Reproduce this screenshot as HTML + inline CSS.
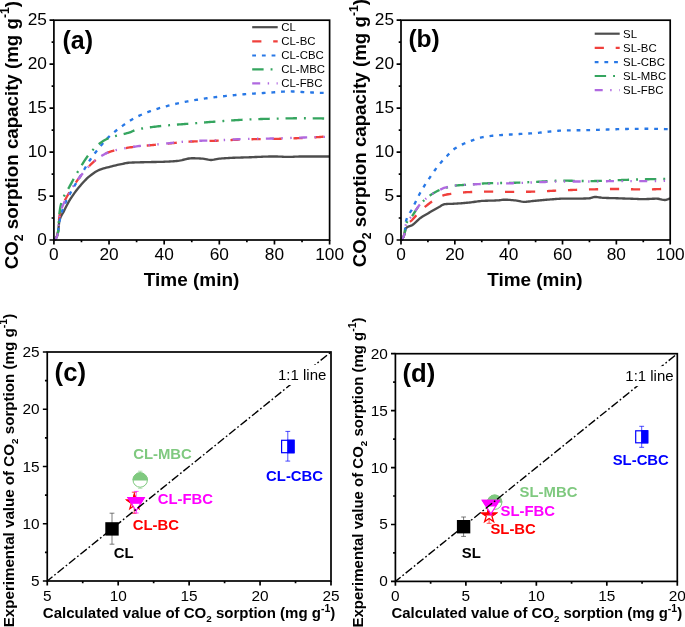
<!DOCTYPE html>
<html lang="en"><head><meta charset="utf-8"><title>CO2 sorption capacity of biochar-amended soils</title>
<style>html,body{margin:0;padding:0;background:#fff}svg{display:block}text{font-family:"Liberation Sans", Arial, Helvetica, sans-serif}</style></head><body>
<svg width="685" height="627" viewBox="0 0 685 627" font-family='"Liberation Sans", Arial, Helvetica, sans-serif'>
<rect width="685" height="627" fill="#fff"/>
<g id="panel-a">
<path d="M53.9 240L54.18 239.95L54.45 239.82L54.73 239.62L55 239.35L55.28 239.02L55.55 238.65L55.83 238.25L56.11 237.81L56.38 237.36L56.66 236.83L56.93 236.16L57.21 235.35L57.48 234.4L57.76 233.31L58.04 232.09L58.31 230.24L58.59 227.63L58.86 224.81L59.14 222.3L59.41 220.66L59.69 219.68L59.97 218.8L60.24 218.02L60.52 217.32L60.79 216.69L61.07 216.13L61.34 215.61L61.62 215.12L61.9 214.67L62.17 214.23L63.55 211.87L64.93 209.08L66.31 206.33L67.69 203.68L69.06 201.2L69.89 199.82L70.44 198.94L71.82 196.82L73.2 194.8L74.58 192.87L75.96 191.03L77.33 189.26L78.71 187.56L80.09 185.93L81.47 184.33L82.85 182.77L84.23 181.26L85.61 179.82L86.98 178.45L88.36 177.19L89.74 176.03L90.02 175.82L91.12 174.98L92.5 173.96L93.88 173L95.25 172.1L96.63 171.27L98.01 170.53L99.39 169.89L99.94 169.66L100.77 169.35L102.15 168.88L103.53 168.47L104.9 168.09L106.28 167.73L107.66 167.38L109.04 167.03L110.42 166.67L111.8 166.31L113.18 165.96L114.55 165.63L115.93 165.3L117.31 164.98L118.69 164.68L120.07 164.39L121.45 164.1L122.83 163.79L124.2 163.5L125.58 163.21L126.96 162.97L128.34 162.78L129.72 162.65L129.99 162.63L131.1 162.58L132.47 162.52L133.85 162.46L135.23 162.42L136.61 162.38L137.99 162.35L139.37 162.32L140.75 162.29L142.12 162.26L143.5 162.22L144.88 162.19L146.26 162.16L147.64 162.13L149.02 162.1L150.4 162.07L151.77 162.04L153.15 162.02L154.53 161.99L155.91 161.96L157.29 161.94L158.67 161.91L160.04 161.87L161.42 161.84L162.8 161.8L164.18 161.75L165.56 161.7L166.94 161.64L168.32 161.57L169.69 161.5L171.07 161.42L172.45 161.33L173.83 161.23L175.21 161.12L176.59 161L177.97 160.87L179.34 160.69L180.72 160.43L182.1 160.11L183.48 159.75L184.86 159.39L186.24 159.04L187.61 158.72L188.99 158.47L190.37 158.3L191.75 158.23L193.13 158.24L194.51 158.27L195.89 158.31L197.26 158.36L198.64 158.43L200.02 158.5L201.4 158.59L202.78 158.67L204.16 158.83L205.54 159.1L206.91 159.4L208.29 159.69L209.67 159.91L211.05 159.99L212.43 159.91L213.81 159.71L215.18 159.43L216.56 159.13L217.94 158.86L219.32 158.67L220.7 158.55L222.08 158.43L223.46 158.33L224.83 158.23L226.21 158.14L227.59 158.06L228.97 157.99L230.35 157.92L231.73 157.86L233.11 157.79L234.48 157.74L235.86 157.69L237.24 157.64L238.62 157.6L240 157.56L241.38 157.52L242.75 157.48L244.13 157.44L245.51 157.4L246.89 157.36L248.27 157.31L249.65 157.26L251.03 157.21L252.4 157.15L253.78 157.09L255.16 157.04L256.54 156.98L257.92 156.92L259.3 156.86L260.68 156.81L262.05 156.75L263.43 156.7L264.81 156.65L266.19 156.61L267.57 156.57L268.95 156.54L270.32 156.51L271.7 156.49L273.08 156.48L274.46 156.48L275.84 156.49L277.22 156.52L278.6 156.57L279.97 156.63L281.35 156.7L282.73 156.76L284.11 156.82L285.49 156.87L286.87 156.9L288.25 156.92L289.62 156.9L291 156.87L292.38 156.82L293.76 156.76L295.14 156.7L296.52 156.63L297.89 156.57L299.27 156.52L300.65 156.49L302.03 156.48L303.41 156.48L304.79 156.48L306.17 156.48L307.54 156.48L308.92 156.48L310.3 156.48L311.68 156.48L313.06 156.48L314.44 156.48L315.81 156.48L317.19 156.48L318.57 156.48L319.95 156.48L321.33 156.48L322.71 156.48L324.09 156.48L325.46 156.48L326.84 156.48L328.22 156.48L329.6 156.48" fill="none" stroke="#4d4d4d" stroke-width="2.35" stroke-linejoin="round" stroke-linecap="butt"/>
<path d="M53.9 240L54.18 239.95L54.45 239.82L54.73 239.62L55 239.35L55.28 239.02L55.55 238.65L55.83 238.25L56.11 237.81L56.38 237.36L56.66 236.85L56.93 236.21L57.21 235.43L57.48 234.5L57.76 233.39L58.04 232.09L58.31 229.78L58.59 226.21L58.86 222.22L59.14 218.62L59.41 216.26L59.69 214.86L59.97 213.57L60.24 212.39L60.52 211.31L60.79 210.32L61.07 209.42L61.34 208.58L61.62 207.81L61.9 207.1L62.17 206.42L63.55 203.41L64.1 202.19L64.93 200.39L66.31 197.69L67.69 195.27L69.06 192.99L69.89 191.64L70.44 190.74L71.82 188.54L73.2 186.4L74.58 184.33L75.96 182.32L77.33 180.38L78.71 178.51L80.09 176.7L81.47 174.94L82.85 173.23L84.23 171.56L85.61 169.95L86.98 168.41L88.36 166.94L89.74 165.54L90.02 165.27L91.12 164.2L92.5 162.91L93.88 161.65L95.25 160.46L96.63 159.32L98.01 158.26L99.39 157.28L99.94 156.92L100.77 156.38L102.15 155.52L103.53 154.69L104.9 153.92L106.28 153.22L107.66 152.6L109.04 152.08L110.42 151.63L111.8 151.2L113.18 150.8L114.55 150.42L115.93 150.07L117.31 149.73L118.69 149.42L120.07 149.12L121.45 148.84L122.83 148.57L124.2 148.32L125.58 148.08L126.96 147.86L128.06 147.68L128.34 147.64L129.72 147.44L131.1 147.26L132.47 147.09L133.85 146.93L135.23 146.78L136.61 146.63L137.99 146.48L139.37 146.33L140.75 146.19L142.12 146.05L143.5 145.91L144.88 145.77L146.26 145.64L147.64 145.51L149.02 145.38L150.4 145.25L151.77 145.12L153.15 144.99L154.53 144.87L155.91 144.74L157.29 144.62L158.67 144.49L160.04 144.37L161.42 144.24L162.8 144.12L164.18 143.99L165.56 143.86L166.94 143.73L168.32 143.59L169.69 143.45L171.07 143.31L172.45 143.17L173.83 143.02L175.21 142.88L176.59 142.74L177.97 142.6L179.34 142.47L180.72 142.34L182.1 142.21L183.48 142.09L184.86 141.98L186.24 141.87L187.61 141.77L188.99 141.68L190.37 141.6L191.75 141.53L193.13 141.47L194.51 141.41L195.89 141.36L197.26 141.31L198.64 141.26L200.02 141.22L201.4 141.17L202.78 141.13L204.16 141.1L205.54 141.06L206.91 141.02L208.29 140.99L209.67 140.95L211.05 140.91L212.43 140.88L213.81 140.84L215.18 140.79L216.56 140.75L217.94 140.7L219.32 140.65L220.7 140.59L222.08 140.53L223.46 140.47L224.83 140.4L226.21 140.33L227.59 140.25L228.97 140.18L230.35 140.1L231.73 140.02L233.11 139.94L234.48 139.86L235.86 139.79L237.24 139.72L238.62 139.65L240 139.58L241.38 139.52L242.75 139.46L244.13 139.41L245.51 139.37L246.89 139.33L248.27 139.3L249.65 139.27L251.03 139.24L252.4 139.22L253.78 139.2L255.16 139.18L256.54 139.16L257.92 139.14L259.3 139.12L260.68 139.1L262.05 139.09L263.43 139.07L264.81 139.05L266.19 139.03L267.57 139.01L268.95 138.99L270.32 138.97L271.7 138.95L273.08 138.92L274.46 138.89L275.84 138.86L277.22 138.83L278.6 138.8L279.97 138.76L281.35 138.73L282.73 138.69L284.11 138.65L285.49 138.61L286.87 138.57L288.25 138.53L289.62 138.48L291 138.43L292.38 138.39L293.76 138.34L295.14 138.29L296.52 138.24L297.89 138.18L299.27 138.13L300.65 138.07L302.03 138.01L303.41 137.95L304.79 137.89L306.17 137.82L307.54 137.75L308.92 137.68L310.3 137.6L311.68 137.52L313.06 137.44L314.44 137.35L315.81 137.26L317.19 137.17L318.57 137.08L319.95 136.98L321.33 136.88L322.71 136.78L324.09 136.68L325.46 136.58L326.84 136.47L328.22 136.36L329.6 136.25" fill="none" stroke="#f0403c" stroke-width="2.35" stroke-linejoin="round" stroke-linecap="butt" stroke-dasharray="9.2 11.8"/>
<path d="M53.9 240L54.18 239.95L54.45 239.82L54.73 239.62L55 239.35L55.28 239.02L55.55 238.65L55.83 238.25L56.11 237.81L56.38 237.36L56.66 236.83L56.93 236.15L57.21 235.33L57.48 234.37L57.76 233.29L58.04 232.09L58.31 230.41L58.59 228.14L58.86 225.65L59.14 223.32L59.41 221.54L59.69 220.19L59.97 218.91L60.24 217.71L60.52 216.58L60.79 215.51L61.07 214.49L61.34 213.53L61.62 212.62L61.9 211.75L62.17 210.91L63.55 207.13L64.1 205.71L64.93 203.68L66.31 200.65L67.69 197.93L69.06 195.37L69.89 193.84L70.44 192.82L71.82 190.37L73.2 188.01L74.58 185.72L75.96 183.47L77.33 181.23L78.71 178.99L80.09 176.7L81.47 174.35L82.85 171.95L84.23 169.54L85.61 167.15L86.98 164.81L88.36 162.55L89.74 160.41L90.02 159.99L91.12 158.38L92.5 156.42L93.88 154.53L95.25 152.69L96.63 150.91L98.01 149.17L99.39 147.47L99.94 146.8L100.77 145.81L102.15 144.16L103.53 142.55L104.9 140.98L106.28 139.47L107.66 138.04L109.04 136.69L110.42 135.42L111.8 134.19L113.18 133L114.55 131.86L115.93 130.74L117.31 129.66L118.69 128.61L120.07 127.58L121.45 126.58L122.83 125.6L123.93 124.82L124.2 124.63L125.58 123.67L126.96 122.72L128.34 121.79L129.72 120.88L131.1 119.99L132.47 119.15L133.85 118.35L135.23 117.6L136.61 116.91L137.99 116.26L139.37 115.63L140.75 115.02L142.12 114.42L143.5 113.84L144.88 113.28L146.26 112.73L147.64 112.19L149.02 111.67L150.4 111.17L151.77 110.68L153.15 110.2L154.53 109.73L155.91 109.28L157.29 108.84L158.67 108.41L160.04 107.99L161.42 107.59L162.8 107.19L164.18 106.8L165.56 106.42L166.94 106.05L168.32 105.69L169.69 105.34L171.07 104.99L172.45 104.65L173.83 104.32L175.21 104L176.59 103.68L177.97 103.37L179.34 103.07L180.72 102.77L182.1 102.48L183.48 102.2L184.86 101.93L186.24 101.66L187.61 101.4L188.99 101.14L190.37 100.89L191.75 100.65L193.13 100.41L194.51 100.17L195.89 99.94L197.26 99.72L198.64 99.5L200.02 99.28L201.4 99.07L202.78 98.86L204.16 98.66L205.54 98.46L206.91 98.27L208.29 98.08L209.67 97.89L211.05 97.71L212.43 97.53L213.81 97.35L215.18 97.18L216.56 97.01L217.94 96.85L219.32 96.69L220.7 96.53L222.08 96.38L223.46 96.23L224.83 96.08L226.21 95.93L227.59 95.79L228.97 95.65L230.35 95.51L231.73 95.37L233.11 95.24L234.48 95.11L235.86 94.98L237.24 94.86L238.62 94.73L240 94.61L241.38 94.5L242.75 94.38L244.13 94.27L245.51 94.16L246.89 94.05L248.27 93.95L249.65 93.85L251.03 93.75L252.4 93.66L253.78 93.56L255.16 93.47L256.54 93.39L257.92 93.3L259.3 93.21L260.68 93.13L262.05 93.05L263.43 92.96L264.81 92.88L266.19 92.8L267.57 92.72L268.95 92.63L270.32 92.55L271.7 92.47L273.08 92.38L274.46 92.29L275.84 92.2L277.22 92.09L278.6 91.98L279.97 91.86L281.35 91.74L282.73 91.64L284.11 91.55L285.49 91.48L286.87 91.43L288.25 91.42L289.62 91.42L291 91.45L292.38 91.49L293.76 91.54L295.14 91.6L296.52 91.67L297.89 91.75L299.27 91.83L300.65 91.92L302.03 92L303.41 92.08L304.79 92.16L306.17 92.23L307.54 92.29L308.92 92.35L310.3 92.41L311.68 92.47L313.06 92.53L314.44 92.58L315.81 92.64L317.19 92.69L318.57 92.75L319.95 92.8L321.33 92.86L322.71 92.91L324.09 92.97L325.46 93.02L326.84 93.07L328.22 93.12L329.6 93.17" fill="none" stroke="#2878e6" stroke-width="2.35" stroke-linejoin="round" stroke-linecap="butt" stroke-dasharray="3.8 5.9"/>
<path d="M53.9 240L54.18 239.95L54.45 239.82L54.73 239.62L55 239.35L55.28 239.02L55.55 238.65L55.83 238.25L56.11 237.81L56.38 237.36L56.66 236.86L56.93 236.23L57.21 235.47L57.48 234.54L57.76 233.42L58.04 232.09L58.31 229.6L58.59 225.64L58.86 221.06L59.14 216.77L59.41 213.62L59.69 211.46L59.97 209.51L60.24 207.79L60.52 206.28L60.79 205.01L61.07 203.95L61.34 203.04L61.62 202.16L61.9 201.33L62.17 200.53L63.55 197.07L64.93 194.27L66.31 191.89L67.69 189.69L69.06 187.43L69.89 185.93L70.44 184.89L71.82 182.32L73.2 179.79L74.58 177.32L75.96 174.9L77.33 172.52L78.71 170.19L80.09 167.91L81.47 165.63L82.85 163.36L84.23 161.15L85.61 159.03L86.98 157.05L88.09 155.6L88.36 155.25L89.74 153.55L91.12 151.91L92.5 150.33L93.88 148.82L95.25 147.39L96.63 146.06L98.01 144.82L99.39 143.7L99.94 143.29L100.77 142.69L102.15 141.74L103.53 140.84L104.9 140.02L106.28 139.27L107.66 138.6L109.04 138.01L110.42 137.5L111.8 137.04L113.18 136.61L114.55 136.23L115.93 135.87L117.31 135.53L118.69 135.2L120.07 134.89L121.45 134.57L122.83 134.26L124.2 133.93L125.58 133.59L126.96 133.22L128.34 132.82L129.72 132.39L129.99 132.3L131.1 131.88L132.47 131.27L133.85 130.65L135.23 130.08L136.61 129.66L137.99 129.35L139.37 129.05L140.75 128.78L142.12 128.52L143.5 128.27L144.88 128.04L146.26 127.82L147.64 127.61L149.02 127.42L150.4 127.23L151.77 127.05L153.15 126.89L154.53 126.72L155.91 126.57L157.29 126.42L158.67 126.27L160.04 126.13L161.42 125.99L162.8 125.84L164.18 125.7L165.56 125.57L166.94 125.43L168.32 125.31L169.69 125.18L171.07 125.07L172.45 124.95L173.83 124.84L175.21 124.73L176.59 124.63L177.97 124.53L179.34 124.43L180.72 124.32L182.1 124.23L183.48 124.13L184.86 124.03L186.24 123.93L187.61 123.82L188.99 123.72L190.37 123.61L191.75 123.51L193.13 123.4L194.51 123.28L195.89 123.17L197.26 123.06L198.64 122.95L200.02 122.83L201.4 122.72L202.78 122.6L204.16 122.49L205.54 122.38L206.91 122.26L208.29 122.15L209.67 122.04L211.05 121.93L212.43 121.82L213.81 121.72L215.18 121.61L216.56 121.51L217.94 121.41L219.32 121.31L220.7 121.21L222.08 121.11L223.46 121.01L224.83 120.91L226.21 120.81L227.59 120.71L228.97 120.62L230.35 120.52L231.73 120.42L233.11 120.33L234.48 120.24L235.86 120.15L237.24 120.06L238.62 119.98L240 119.9L241.38 119.82L242.75 119.75L244.13 119.68L245.51 119.61L246.89 119.55L248.27 119.49L249.65 119.44L251.03 119.38L252.4 119.33L253.78 119.27L255.16 119.22L256.54 119.18L257.92 119.13L259.3 119.08L260.68 119.04L262.05 118.99L263.43 118.95L264.81 118.91L266.19 118.87L267.57 118.84L268.95 118.8L270.32 118.76L271.7 118.73L273.08 118.7L274.46 118.67L275.84 118.64L277.22 118.61L278.6 118.58L279.97 118.55L281.35 118.52L282.73 118.49L284.11 118.46L285.49 118.43L286.87 118.4L288.25 118.38L289.62 118.35L291 118.33L292.38 118.31L293.76 118.29L295.14 118.27L296.52 118.26L297.89 118.25L299.27 118.24L300.65 118.23L302.03 118.23L303.41 118.23L304.79 118.24L306.17 118.24L307.54 118.25L308.92 118.26L310.3 118.27L311.68 118.28L313.06 118.3L314.44 118.32L315.81 118.34L317.19 118.36L318.57 118.39L319.95 118.42L321.33 118.45L322.71 118.48L324.09 118.51L325.46 118.55L326.84 118.59L328.22 118.63L329.6 118.67" fill="none" stroke="#35a55f" stroke-width="2.35" stroke-linejoin="round" stroke-linecap="butt" stroke-dasharray="11.4 7 1.9 6.9"/>
<path d="M53.9 240L54.18 239.95L54.45 239.82L54.73 239.62L55 239.35L55.28 239.02L55.55 238.65L55.83 238.25L56.11 237.81L56.38 237.36L56.66 236.85L56.93 236.21L57.21 235.43L57.48 234.49L57.76 233.38L58.04 232.09L58.31 229.83L58.59 226.37L58.86 222.5L59.14 219.01L59.41 216.7L59.69 215.31L59.97 214.03L60.24 212.86L60.52 211.79L60.79 210.81L61.07 209.91L61.34 209.08L61.62 208.31L61.9 207.59L62.17 206.92L63.55 203.88L64.1 202.63L64.93 200.77L66.31 197.95L67.69 195.41L69.06 193.03L69.89 191.64L70.44 190.73L71.82 188.5L73.2 186.35L74.58 184.29L75.96 182.29L77.33 180.36L78.71 178.5L80.09 176.7L81.47 174.94L82.85 173.23L84.23 171.56L85.61 169.95L86.98 168.41L88.36 166.94L89.74 165.54L90.02 165.27L91.12 164.2L92.5 162.91L93.88 161.65L95.25 160.46L96.63 159.32L98.01 158.26L99.39 157.28L99.94 156.92L100.77 156.38L102.15 155.52L103.53 154.69L104.9 153.92L106.28 153.22L107.66 152.6L109.04 152.08L110.42 151.63L111.8 151.21L113.18 150.82L114.55 150.45L115.93 150.11L117.31 149.78L118.69 149.48L120.07 149.19L121.45 148.91L122.83 148.64L124.2 148.39L125.58 148.13L126.96 147.88L128.06 147.68L128.34 147.63L129.72 147.39L131.1 147.16L132.47 146.94L133.85 146.74L135.23 146.54L136.61 146.37L137.99 146.2L139.37 146.04L140.75 145.89L142.12 145.74L143.5 145.6L144.88 145.46L146.26 145.33L147.64 145.2L149.02 145.08L150.4 144.95L151.77 144.83L153.15 144.71L154.53 144.59L155.91 144.47L157.29 144.35L158.67 144.23L160.04 144.11L161.42 143.98L162.8 143.86L164.18 143.73L165.56 143.59L166.94 143.45L168.32 143.31L169.69 143.16L171.07 143.01L172.45 142.85L173.83 142.7L175.21 142.55L176.59 142.39L177.97 142.24L179.34 142.1L180.72 141.96L182.1 141.82L183.48 141.69L184.86 141.56L186.24 141.45L187.61 141.34L188.99 141.25L190.37 141.16L191.75 141.09L193.13 141.03L194.51 140.97L195.89 140.91L197.26 140.86L198.64 140.82L200.02 140.77L201.4 140.73L202.78 140.69L204.16 140.65L205.54 140.62L206.91 140.58L208.29 140.55L209.67 140.51L211.05 140.47L212.43 140.43L213.81 140.4L215.18 140.35L216.56 140.31L217.94 140.26L219.32 140.21L220.7 140.16L222.08 140.09L223.46 140.03L224.83 139.96L226.21 139.89L227.59 139.81L228.97 139.74L230.35 139.66L231.73 139.58L233.11 139.5L234.48 139.43L235.86 139.35L237.24 139.28L238.62 139.21L240 139.14L241.38 139.08L242.75 139.02L244.13 138.97L245.51 138.93L246.89 138.89L248.27 138.86L249.65 138.83L251.03 138.81L252.4 138.78L253.78 138.76L255.16 138.74L256.54 138.72L257.92 138.7L259.3 138.68L260.68 138.66L262.05 138.65L263.43 138.63L264.81 138.61L266.19 138.59L267.57 138.57L268.95 138.55L270.32 138.53L271.7 138.51L273.08 138.48L274.46 138.45L275.84 138.42L277.22 138.39L278.6 138.35L279.97 138.31L281.35 138.27L282.73 138.23L284.11 138.19L285.49 138.14L286.87 138.1L288.25 138.05L289.62 138L291 137.95L292.38 137.9L293.76 137.86L295.14 137.81L296.52 137.76L297.89 137.71L299.27 137.66L300.65 137.62L302.03 137.57L303.41 137.53L304.79 137.49L306.17 137.44L307.54 137.4L308.92 137.35L310.3 137.31L311.68 137.27L313.06 137.22L314.44 137.18L315.81 137.13L317.19 137.09L318.57 137.05L319.95 137L321.33 136.96L322.71 136.91L324.09 136.87L325.46 136.83L326.84 136.78L328.22 136.74L329.6 136.69" fill="none" stroke="#b069e0" stroke-width="2.35" stroke-linejoin="round" stroke-linecap="butt" stroke-dasharray="8 7.5 1.4 7.5 1.4 7.5"/>
<rect x="53.9" y="20.2" width="275.7" height="219.8" fill="none" stroke="#000" stroke-width="1.7"/>
<path d="M53.9 240v4.4M109.04 240v4.4M164.18 240v4.4M219.32 240v4.4M274.46 240v4.4M329.6 240v4.4M81.47 240v2.3M136.61 240v2.3M191.75 240v2.3M246.89 240v2.3M302.03 240v2.3M53.9 240h-4.4M53.9 196.04h-4.4M53.9 152.08h-4.4M53.9 108.12h-4.4M53.9 64.16h-4.4M53.9 20.2h-4.4M53.9 218.02h-2.3M53.9 174.06h-2.3M53.9 130.1h-2.3M53.9 86.14h-2.3M53.9 42.18h-2.3" stroke="#000" stroke-width="1.7" fill="none"/>
<g font-size="17.3" fill="#000">
<text transform="translate(53.9 260.3) scale(1.0 1)" text-anchor="middle">0</text>
<text transform="translate(109.04 260.3) scale(1.0 1)" text-anchor="middle">20</text>
<text transform="translate(164.18 260.3) scale(1.0 1)" text-anchor="middle">40</text>
<text transform="translate(219.32 260.3) scale(1.0 1)" text-anchor="middle">60</text>
<text transform="translate(274.46 260.3) scale(1.0 1)" text-anchor="middle">80</text>
<text transform="translate(329.6 260.3) scale(1.0 1)" text-anchor="middle">100</text>
<text transform="translate(46.9 245.2) scale(1.0 1)" text-anchor="end">0</text>
<text transform="translate(46.9 201.24) scale(1.0 1)" text-anchor="end">5</text>
<text transform="translate(46.9 157.28) scale(1.0 1)" text-anchor="end">10</text>
<text transform="translate(46.9 113.32) scale(1.0 1)" text-anchor="end">15</text>
<text transform="translate(46.9 69.36) scale(1.0 1)" text-anchor="end">20</text>
<text transform="translate(46.9 25.4) scale(1.0 1)" text-anchor="end">25</text>
</g>
<path d="M252.2 27.2H277.7" stroke="#4d4d4d" stroke-width="2.2" fill="none"/>
<text x="281.3" y="31.1" font-size="11.4" fill="#000">CL</text>
<path d="M252.2 41.35H277.7" stroke="#f0403c" stroke-width="2.2" fill="none" stroke-dasharray="9.2 11.8"/>
<text x="281.3" y="45.25" font-size="11.4" fill="#000">CL-BC</text>
<path d="M252.2 55.5H277.7" stroke="#2878e6" stroke-width="2.2" fill="none" stroke-dasharray="3.8 5.9"/>
<text x="281.3" y="59.4" font-size="11.4" fill="#000">CL-CBC</text>
<path d="M252.2 69.4H277.7" stroke="#35a55f" stroke-width="2.2" fill="none" stroke-dasharray="11.4 7 1.9 6.9"/>
<text x="281.3" y="73.3" font-size="11.4" fill="#000">CL-MBC</text>
<path d="M252.2 83.4H277.7" stroke="#b069e0" stroke-width="2.2" fill="none" stroke-dasharray="8 7.5 1.4 7.5 1.4 7.5"/>
<text x="281.3" y="87.3" font-size="11.4" fill="#000">CL-FBC</text>
<text x="62.5" y="49.3" font-size="25" font-weight="bold">(a)</text>
<text x="191.6" y="285.9" font-size="18.2" font-weight="bold" text-anchor="middle" textLength="95.5" lengthAdjust="spacingAndGlyphs">Time (min)</text>
<text transform="translate(17.8 269.2) rotate(-90)" font-size="19.2" font-weight="bold" textLength="268.2" lengthAdjust="spacingAndGlyphs">CO<tspan font-size="12.5" dy="4.8">2</tspan><tspan dy="-4.8"> sorption capacity (mg g</tspan><tspan font-size="12.5" dy="-8.5">-1</tspan><tspan dy="8.5">)</tspan></text>
</g>
<g id="panel-b">
<path d="M401 240L401.27 239.89L401.54 239.7L401.81 239.43L402.08 239.1L402.35 238.72L402.62 238.29L402.88 237.84L403.15 237.36L403.42 236.81L403.69 236.11L403.96 235.3L404.23 234.42L404.5 233.48L404.77 232.53L404.77 232.53L405.04 231.32L405.31 229.93L405.58 228.85L405.71 228.57L405.85 228.42L406.11 228.13L406.38 227.87L406.65 227.64L406.92 227.43L407.19 227.24L407.46 227.07L407.73 226.92L408 226.79L408.27 226.67L408.54 226.56L408.81 226.46L409.08 226.36L410.42 225.93L411.77 225.37L412.31 225.05L413.11 224.48L414.46 223.36L415.81 222.12L417.15 220.82L418.5 219.56L419.84 218.42L420.38 218.02L421.19 217.45L422.54 216.56L423.88 215.73L425.23 214.93L426.57 214.16L427.92 213.4L429.27 212.62L429.8 212.31L430.61 211.83L431.96 211.03L433.3 210.23L434.65 209.44L436 208.66L437.34 207.9L438.69 207.17L438.96 207.03L440.03 206.41L441.38 205.58L442.73 204.81L444.07 204.28L444.88 204.13L445.42 204.08L446.76 204L448.11 203.93L449.46 203.88L450.8 203.84L452.15 203.8L453.49 203.75L454.84 203.69L456.19 203.61L457.53 203.52L458.88 203.43L460.22 203.33L461.57 203.22L462.92 203.11L464.26 203L465.61 202.88L466.95 202.75L468.3 202.62L469.11 202.55L469.65 202.49L470.99 202.34L472.34 202.16L473.68 201.97L475.03 201.77L476.38 201.57L477.72 201.38L479.07 201.21L480.41 201.06L481.76 200.94L482.84 200.88L483.11 200.86L484.45 200.8L485.8 200.76L487.14 200.72L488.49 200.68L489.84 200.65L491.18 200.62L492.53 200.59L493.87 200.55L495.22 200.5L496.57 200.45L496.84 200.44L497.91 200.36L499.26 200.23L500.6 200.07L501.95 199.91L503.3 199.79L504.64 199.73L504.91 199.73L505.99 199.74L507.33 199.79L508.68 199.86L510.03 199.95L511.37 200.06L512.72 200.18L514.06 200.31L515.41 200.44L516.76 200.61L518.1 200.86L519.45 201.13L520.79 201.41L522.14 201.64L523.49 201.8L524.56 201.84L524.83 201.84L526.18 201.79L527.52 201.68L528.87 201.52L530.22 201.34L531.56 201.16L532.91 200.99L533.98 200.88L534.25 200.85L535.6 200.72L536.95 200.6L538.29 200.47L539.64 200.35L540.98 200.23L542.33 200.11L543.68 199.99L545.02 199.88L546.37 199.77L547.71 199.66L549.06 199.56L550.41 199.45L551.75 199.34L553.1 199.22L554.44 199.1L555.79 198.99L557.14 198.89L558.48 198.8L559.83 198.74L561.17 198.69L562.52 198.68L563.87 198.68L565.21 198.68L566.56 198.68L567.9 198.68L569.25 198.68L570.6 198.68L571.94 198.68L573.29 198.68L574.63 198.68L575.98 198.68L577.33 198.67L578.67 198.66L580.02 198.64L581.36 198.61L582.71 198.57L584.06 198.52L585.4 198.46L586.75 198.4L588.09 198.32L589.44 198.24L590.79 197.98L592.13 197.54L593.48 197.11L594.82 196.92L596.17 196.97L597.52 197.12L598.86 197.31L600.21 197.51L601.55 197.68L602.9 197.8L604.25 197.86L605.59 197.92L606.94 197.97L608.28 198.01L609.63 198.05L610.98 198.09L612.32 198.12L613.67 198.16L615.01 198.2L616.36 198.24L617.71 198.28L619.05 198.33L620.4 198.37L621.74 198.41L623.09 198.46L624.44 198.5L625.78 198.55L627.13 198.59L628.47 198.63L629.82 198.68L631.17 198.73L632.51 198.78L633.86 198.84L635.2 198.9L636.55 198.95L637.9 199L639.24 199.05L640.59 199.09L641.93 199.11L643.28 199.12L644.63 199.1L645.97 199.07L647.32 199.02L648.66 198.96L650.01 198.9L651.36 198.83L652.7 198.77L654.05 198.72L655.39 198.69L656.74 198.68L658.09 198.78L659.43 199.02L660.78 199.34L662.12 199.65L663.47 199.9L664.82 200L666.16 199.85L667.51 199.47L668.85 198.91L670.2 198.24" fill="none" stroke="#4d4d4d" stroke-width="2.35" stroke-linejoin="round" stroke-linecap="butt"/>
<path d="M401 240L401.27 239.89L401.54 239.7L401.81 239.43L402.08 239.1L402.35 238.72L402.62 238.29L402.88 237.84L403.15 237.36L403.42 236.83L403.69 236.18L403.96 235.42L404.23 234.56L404.5 233.59L404.77 232.53L404.77 232.53L405.04 230.95L405.31 228.94L405.58 227.28L405.71 226.81L405.85 226.52L406.11 225.98L406.38 225.48L406.65 225.02L406.92 224.61L407.19 224.23L407.46 223.88L407.73 223.56L408 223.27L408.27 223.01L408.54 222.76L408.81 222.53L409.08 222.32L410.42 221.36L411.77 220.31L412.31 219.78L413.11 218.9L414.46 217.39L415.81 215.86L417.15 214.35L418.5 212.89L419.84 211.51L420.38 210.99L421.19 210.23L422.54 208.99L423.88 207.8L425.23 206.65L426.57 205.55L427.92 204.49L429.27 203.47L429.8 203.07L430.61 202.49L431.96 201.52L433.3 200.57L434.65 199.66L436 198.8L437.34 198.02L438.69 197.31L438.96 197.18L440.03 196.68L441.38 196.08L442.73 195.54L444.07 195.1L444.88 194.9L445.42 194.78L446.76 194.51L448.11 194.28L449.46 194.07L450.8 193.89L452.15 193.72L453.49 193.56L454.84 193.4L456.19 193.25L457.53 193.09L458.88 192.94L460.22 192.79L461.57 192.65L462.92 192.51L464.26 192.39L465.61 192.28L466.95 192.19L468.3 192.12L469.11 192.08L469.65 192.06L470.99 192.01L472.34 191.96L473.68 191.92L475.03 191.87L476.38 191.83L477.72 191.79L479.07 191.76L480.41 191.73L481.76 191.7L483.11 191.68L484.45 191.66L485.8 191.65L487.14 191.64L487.68 191.64L488.49 191.64L489.84 191.65L491.18 191.66L492.53 191.67L493.87 191.69L495.22 191.71L496.57 191.73L497.91 191.75L499.26 191.78L500.6 191.8L501.95 191.82L503.3 191.84L504.64 191.86L505.99 191.88L507.33 191.89L508.68 191.9L510.03 191.91L510.83 191.91L511.37 191.91L512.72 191.91L514.06 191.9L515.41 191.89L516.76 191.88L518.1 191.87L519.45 191.86L520.79 191.85L522.14 191.83L523.49 191.81L524.83 191.79L526.18 191.78L527.52 191.75L528.87 191.73L530.22 191.71L531.56 191.69L532.91 191.66L533.98 191.64L534.25 191.64L535.6 191.61L536.95 191.57L538.29 191.53L539.64 191.48L540.98 191.42L542.33 191.36L543.68 191.3L545.02 191.23L546.37 191.16L547.71 191.09L549.06 191.01L550.41 190.94L551.75 190.86L553.1 190.79L554.44 190.71L555.79 190.64L557.14 190.57L558.48 190.5L559.83 190.44L561.17 190.38L562.52 190.33L563.87 190.27L565.21 190.22L566.56 190.17L567.9 190.12L569.25 190.07L570.6 190.02L571.94 189.97L573.29 189.92L574.63 189.88L575.98 189.83L577.33 189.79L578.67 189.74L580.02 189.7L581.36 189.66L582.71 189.62L584.06 189.58L585.4 189.54L586.75 189.51L588.09 189.48L589.44 189.45L590.79 189.42L592.13 189.39L593.48 189.36L594.82 189.33L596.17 189.29L597.52 189.26L598.86 189.24L600.21 189.21L601.55 189.18L602.9 189.15L604.25 189.13L605.59 189.1L606.94 189.08L608.28 189.06L609.63 189.05L610.98 189.03L612.32 189.02L613.67 189.01L615.01 189.01L616.36 189.01L617.71 189.01L619.05 189.02L620.4 189.03L621.74 189.05L623.09 189.08L624.44 189.1L625.78 189.13L627.13 189.16L628.47 189.19L629.82 189.23L631.17 189.26L632.51 189.29L633.86 189.32L635.2 189.35L636.55 189.38L637.9 189.4L639.24 189.42L640.59 189.43L641.93 189.44L643.28 189.45L644.63 189.44L645.97 189.44L647.32 189.42L648.66 189.4L650.01 189.38L651.36 189.35L652.7 189.32L654.05 189.28L655.39 189.24L656.74 189.2L658.09 189.15L659.43 189.1L660.78 189.04L662.12 188.98L663.47 188.92L664.82 188.86L666.16 188.79L667.51 188.72L668.85 188.64L670.2 188.57" fill="none" stroke="#f0403c" stroke-width="2.35" stroke-linejoin="round" stroke-linecap="butt" stroke-dasharray="9.2 11.8"/>
<path d="M401 240L401.27 239.89L401.54 239.7L401.81 239.43L402.08 239.1L402.35 238.72L402.62 238.29L402.88 237.84L403.15 237.36L403.42 236.86L403.69 236.27L403.96 235.58L404.23 234.75L404.5 233.74L404.77 232.53L404.77 232.53L405.04 230.08L405.31 226.46L405.58 223.31L405.71 222.42L405.85 221.87L406.11 220.83L406.38 219.88L406.65 219.01L406.92 218.21L407.19 217.48L407.46 216.8L407.73 216.19L408 215.62L408.27 215.1L408.54 214.61L408.81 214.16L409.08 213.74L410.42 211.85L411.77 209.8L412.31 208.79L413.11 207.13L414.46 204.32L415.81 201.51L417.15 198.74L418.5 196.05L419.84 193.5L420.38 192.52L421.19 191.1L422.54 188.82L423.88 186.62L425.23 184.49L426.57 182.42L427.92 180.38L429.27 178.38L429.8 177.58L430.61 176.38L431.96 174.4L433.3 172.45L434.65 170.53L436 168.67L437.34 166.88L438.69 165.16L438.96 164.83L440.03 163.54L441.38 161.99L442.73 160.51L444.07 159.08L444.88 158.23L445.42 157.67L446.76 156.23L448.11 154.78L449.46 153.35L450.8 151.98L452.15 150.7L453.49 149.55L454.84 148.56L456.19 147.7L457.53 146.88L458.88 146.13L460.22 145.41L461.57 144.74L462.92 144.11L464.26 143.51L465.61 142.93L466.95 142.38L468.3 141.84L469.11 141.53L469.65 141.32L470.99 140.8L472.34 140.29L473.68 139.79L475.03 139.3L476.38 138.84L477.72 138.41L479.07 138.01L480.41 137.66L481.76 137.35L482.84 137.13L483.11 137.09L484.45 136.85L485.8 136.64L487.14 136.44L488.49 136.26L489.84 136.08L491.18 135.93L492.53 135.78L493.87 135.64L495.22 135.52L496.57 135.4L496.84 135.38L497.91 135.29L499.26 135.19L500.6 135.09L501.95 135.01L503.3 134.93L504.64 134.85L505.99 134.77L507.33 134.7L508.68 134.62L510.03 134.54L510.83 134.5L511.37 134.46L512.72 134.39L514.06 134.31L515.41 134.24L516.76 134.16L518.1 134.09L519.45 134.02L520.79 133.95L522.14 133.88L523.49 133.81L524.83 133.74L526.18 133.66L527.52 133.58L528.87 133.51L530.22 133.42L531.56 133.34L532.91 133.25L533.98 133.18L534.25 133.16L535.6 133.05L536.95 132.94L538.29 132.81L539.64 132.68L540.98 132.54L542.33 132.39L543.68 132.24L545.02 132.08L546.37 131.92L547.71 131.77L549.06 131.62L550.41 131.47L551.75 131.32L553.1 131.18L554.44 131.05L555.79 130.93L557.14 130.83L558.48 130.73L559.83 130.65L561.17 130.59L562.52 130.54L563.87 130.5L565.21 130.47L566.56 130.44L567.9 130.42L569.25 130.39L570.6 130.37L571.94 130.35L573.29 130.33L574.63 130.32L575.98 130.3L577.33 130.28L578.67 130.27L580.02 130.25L581.36 130.23L582.71 130.22L584.06 130.2L585.4 130.18L586.75 130.15L588.09 130.13L589.44 130.1L590.79 130.07L592.13 130.03L593.48 129.99L594.82 129.95L596.17 129.91L597.52 129.86L598.86 129.81L600.21 129.76L601.55 129.71L602.9 129.66L604.25 129.61L605.59 129.56L606.94 129.51L608.28 129.46L609.63 129.41L610.98 129.37L612.32 129.33L613.67 129.29L615.01 129.25L616.36 129.22L617.71 129.19L619.05 129.16L620.4 129.13L621.74 129.1L623.09 129.07L624.44 129.04L625.78 129.01L627.13 128.98L628.47 128.95L629.82 128.93L631.17 128.9L632.51 128.88L633.86 128.86L635.2 128.84L636.55 128.82L637.9 128.81L639.24 128.8L640.59 128.79L641.93 128.78L643.28 128.78L644.63 128.78L645.97 128.79L647.32 128.79L648.66 128.8L650.01 128.81L651.36 128.82L652.7 128.84L654.05 128.85L655.39 128.87L656.74 128.89L658.09 128.91L659.43 128.94L660.78 128.97L662.12 129L663.47 129.03L664.82 129.06L666.16 129.1L667.51 129.14L668.85 129.18L670.2 129.22" fill="none" stroke="#2878e6" stroke-width="2.35" stroke-linejoin="round" stroke-linecap="butt" stroke-dasharray="3.8 5.9"/>
<path d="M401 240L401.27 239.89L401.54 239.7L401.81 239.43L402.08 239.1L402.35 238.72L402.62 238.29L402.88 237.84L403.15 237.36L403.42 236.84L403.69 236.23L403.96 235.5L404.23 234.65L404.5 233.66L404.77 232.53L404.77 232.53L405.04 230.58L405.31 227.93L405.58 225.68L405.71 225.05L405.85 224.67L406.11 223.95L406.38 223.29L406.65 222.69L406.92 222.14L407.19 221.64L407.46 221.18L407.73 220.75L408 220.37L408.27 220.02L408.54 219.69L408.81 219.39L409.08 219.1L410.42 217.83L411.77 216.44L412.31 215.73L413.11 214.56L414.46 212.52L415.81 210.44L417.15 208.41L418.5 206.49L419.84 204.75L420.38 204.13L421.19 203.24L422.54 201.83L423.88 200.51L425.23 199.26L426.57 198.1L427.92 197.01L429.27 195.99L429.8 195.6L430.61 195.03L431.96 194.12L433.3 193.26L434.65 192.45L436 191.69L437.34 190.99L438.69 190.36L438.96 190.24L440.03 189.79L441.38 189.27L442.73 188.8L444.07 188.37L444.88 188.13L445.42 187.97L446.76 187.56L448.11 187.16L449.46 186.78L450.8 186.43L452.15 186.12L453.49 185.86L454.84 185.67L456.19 185.52L457.53 185.39L458.88 185.28L460.22 185.17L461.57 185.08L462.92 185L464.26 184.92L465.61 184.84L466.95 184.76L468.3 184.67L469.11 184.61L469.65 184.57L470.99 184.47L472.34 184.36L473.68 184.25L475.03 184.13L476.38 184.02L477.72 183.91L479.07 183.8L480.41 183.7L481.76 183.6L483.11 183.51L484.45 183.43L485.8 183.36L487.14 183.31L487.68 183.29L488.49 183.27L489.84 183.23L491.18 183.2L492.53 183.17L493.87 183.14L495.22 183.12L496.57 183.1L497.91 183.08L499.26 183.06L500.6 183.04L501.95 183.02L503.3 183L504.64 182.98L505.99 182.95L507.33 182.93L508.68 182.9L510.03 182.87L510.83 182.85L511.37 182.84L512.72 182.8L514.06 182.76L515.41 182.72L516.76 182.67L518.1 182.62L519.45 182.58L520.79 182.52L522.14 182.47L523.49 182.42L524.83 182.36L526.18 182.3L527.52 182.25L528.87 182.19L530.22 182.13L531.56 182.07L532.91 182.02L533.98 181.97L534.25 181.96L535.6 181.9L536.95 181.83L538.29 181.76L539.64 181.69L540.98 181.61L542.33 181.53L543.68 181.44L545.02 181.36L546.37 181.28L547.71 181.2L549.06 181.12L550.41 181.04L551.75 180.97L553.1 180.9L554.44 180.84L555.79 180.79L557.14 180.74L558.48 180.71L559.83 180.68L561.17 180.66L562.52 180.65L563.87 180.66L565.21 180.67L566.56 180.68L567.9 180.7L569.25 180.72L570.6 180.75L571.94 180.78L573.29 180.81L574.63 180.84L575.98 180.87L577.33 180.91L578.67 180.94L580.02 180.97L581.36 181L582.71 181.02L584.06 181.05L585.4 181.07L586.75 181.08L588.09 181.09L589.44 181.09L590.79 181.09L592.13 181.08L593.48 181.06L594.82 181.03L596.17 181L597.52 180.96L598.86 180.92L600.21 180.87L601.55 180.82L602.9 180.76L604.25 180.71L605.59 180.65L606.94 180.59L608.28 180.53L609.63 180.48L610.98 180.42L612.32 180.36L613.67 180.31L615.01 180.26L616.36 180.21L617.71 180.17L619.05 180.12L620.4 180.08L621.74 180.03L623.09 179.98L624.44 179.93L625.78 179.88L627.13 179.83L628.47 179.79L629.82 179.74L631.17 179.69L632.51 179.64L633.86 179.6L635.2 179.56L636.55 179.51L637.9 179.47L639.24 179.44L640.59 179.4L641.93 179.37L643.28 179.34L644.63 179.31L645.97 179.28L647.32 179.25L648.66 179.22L650.01 179.19L651.36 179.17L652.7 179.14L654.05 179.12L655.39 179.09L656.74 179.07L658.09 179.05L659.43 179.03L660.78 179.01L662.12 178.99L663.47 178.97L664.82 178.95L666.16 178.93L667.51 178.92L668.85 178.91L670.2 178.9" fill="none" stroke="#35a55f" stroke-width="2.35" stroke-linejoin="round" stroke-linecap="butt" stroke-dasharray="11.4 7 1.9 6.9"/>
<path d="M401 240L401.27 239.89L401.54 239.7L401.81 239.43L402.08 239.1L402.35 238.72L402.62 238.29L402.88 237.84L403.15 237.36L403.42 236.84L403.69 236.23L403.96 235.5L404.23 234.65L404.5 233.66L404.77 232.53L404.77 232.53L405.04 230.59L405.31 227.94L405.58 225.69L405.71 225.05L405.85 224.66L406.11 223.92L406.38 223.24L406.65 222.61L406.92 222.04L407.19 221.52L407.46 221.04L407.73 220.6L408 220.2L408.27 219.83L408.54 219.49L408.81 219.17L409.08 218.87L410.42 217.54L411.77 216.1L412.31 215.38L413.11 214.2L414.46 212.17L415.81 210.13L417.15 208.13L418.5 206.26L419.84 204.56L420.38 203.95L421.19 203.08L422.54 201.71L423.88 200.41L425.23 199.2L426.57 198.06L427.92 196.99L429.27 195.98L429.8 195.6L430.61 195.04L431.96 194.15L433.3 193.31L434.65 192.52L436 191.77L437.34 191.05L438.69 190.37L438.96 190.24L440.03 189.71L441.38 189.07L442.73 188.47L444.07 187.95L444.88 187.69L445.42 187.53L446.76 187.14L448.11 186.77L449.46 186.43L450.8 186.13L452.15 185.87L453.49 185.65L454.84 185.49L456.19 185.36L457.53 185.25L458.88 185.16L460.22 185.07L461.57 184.99L462.92 184.92L464.26 184.85L465.61 184.79L466.95 184.72L468.3 184.65L469.11 184.61L469.65 184.58L470.99 184.51L472.34 184.43L473.68 184.36L475.03 184.29L476.38 184.21L477.72 184.14L479.07 184.08L480.41 184.01L481.76 183.95L483.11 183.89L484.45 183.84L485.8 183.79L487.14 183.75L487.68 183.73L488.49 183.71L489.84 183.68L491.18 183.65L492.53 183.62L493.87 183.59L495.22 183.57L496.57 183.55L497.91 183.53L499.26 183.5L500.6 183.48L501.95 183.46L503.3 183.44L504.64 183.42L505.99 183.4L507.33 183.37L508.68 183.34L510.03 183.31L510.83 183.29L511.37 183.28L512.72 183.24L514.06 183.2L515.41 183.15L516.76 183.1L518.1 183.05L519.45 183L520.79 182.94L522.14 182.89L523.49 182.83L524.83 182.77L526.18 182.72L527.52 182.66L528.87 182.61L530.22 182.55L531.56 182.5L532.91 182.45L533.98 182.41L534.25 182.4L535.6 182.36L536.95 182.3L538.29 182.25L539.64 182.2L540.98 182.14L542.33 182.09L543.68 182.03L545.02 181.98L546.37 181.92L547.71 181.87L549.06 181.82L550.41 181.77L551.75 181.73L553.1 181.69L554.44 181.65L555.79 181.62L557.14 181.59L558.48 181.56L559.83 181.55L561.17 181.54L562.52 181.53L563.87 181.53L565.21 181.53L566.56 181.53L567.9 181.53L569.25 181.53L570.6 181.53L571.94 181.53L573.29 181.53L574.63 181.53L575.98 181.53L577.33 181.53L578.67 181.53L580.02 181.53L581.36 181.53L582.71 181.53L584.06 181.53L585.4 181.53L586.75 181.53L588.09 181.53L589.44 181.53L590.79 181.53L592.13 181.52L593.48 181.51L594.82 181.49L596.17 181.46L597.52 181.44L598.86 181.41L600.21 181.38L601.55 181.35L602.9 181.31L604.25 181.28L605.59 181.25L606.94 181.22L608.28 181.19L609.63 181.16L610.98 181.14L612.32 181.12L613.67 181.11L615.01 181.1L616.36 181.09L617.71 181.09L619.05 181.09L620.4 181.09L621.74 181.09L623.09 181.09L624.44 181.09L625.78 181.09L627.13 181.09L628.47 181.09L629.82 181.09L631.17 181.09L632.51 181.09L633.86 181.09L635.2 181.09L636.55 181.09L637.9 181.09L639.24 181.09L640.59 181.09L641.93 181.09L643.28 181.09L644.63 181.09L645.97 181.09L647.32 181.08L648.66 181.07L650.01 181.06L651.36 181.04L652.7 181.02L654.05 181L655.39 180.98L656.74 180.96L658.09 180.93L659.43 180.9L660.78 180.88L662.12 180.85L663.47 180.82L664.82 180.78L666.16 180.75L667.51 180.72L668.85 180.69L670.2 180.65" fill="none" stroke="#b069e0" stroke-width="2.35" stroke-linejoin="round" stroke-linecap="butt" stroke-dasharray="8 7.5 1.4 7.5 1.4 7.5"/>
<rect x="401" y="20.2" width="269.2" height="219.8" fill="none" stroke="#000" stroke-width="1.7"/>
<path d="M401 240v4.4M454.84 240v4.4M508.68 240v4.4M562.52 240v4.4M616.36 240v4.4M670.2 240v4.4M427.92 240v2.3M481.76 240v2.3M535.6 240v2.3M589.44 240v2.3M643.28 240v2.3M401 240h-4.4M401 196.04h-4.4M401 152.08h-4.4M401 108.12h-4.4M401 64.16h-4.4M401 20.2h-4.4M401 218.02h-2.3M401 174.06h-2.3M401 130.1h-2.3M401 86.14h-2.3M401 42.18h-2.3" stroke="#000" stroke-width="1.7" fill="none"/>
<g font-size="17.3" fill="#000">
<text transform="translate(401 260.3) scale(1.0 1)" text-anchor="middle">0</text>
<text transform="translate(454.84 260.3) scale(1.0 1)" text-anchor="middle">20</text>
<text transform="translate(508.68 260.3) scale(1.0 1)" text-anchor="middle">40</text>
<text transform="translate(562.52 260.3) scale(1.0 1)" text-anchor="middle">60</text>
<text transform="translate(616.36 260.3) scale(1.0 1)" text-anchor="middle">80</text>
<text transform="translate(670.2 260.3) scale(1.0 1)" text-anchor="middle">100</text>
<text transform="translate(394.1 245.2) scale(1.0 1)" text-anchor="end">0</text>
<text transform="translate(394.1 201.24) scale(1.0 1)" text-anchor="end">5</text>
<text transform="translate(394.1 157.28) scale(1.0 1)" text-anchor="end">10</text>
<text transform="translate(394.1 113.32) scale(1.0 1)" text-anchor="end">15</text>
<text transform="translate(394.1 69.36) scale(1.0 1)" text-anchor="end">20</text>
<text transform="translate(394.1 25.4) scale(1.0 1)" text-anchor="end">25</text>
</g>
<path d="M594.7 33.7H619.7" stroke="#4d4d4d" stroke-width="2.2" fill="none"/>
<text x="623.1" y="37.6" font-size="11.4" fill="#000">SL</text>
<path d="M594.7 47.9H619.7" stroke="#f0403c" stroke-width="2.2" fill="none" stroke-dasharray="9.2 11.8"/>
<text x="623.1" y="51.8" font-size="11.4" fill="#000">SL-BC</text>
<path d="M594.7 62.2H619.7" stroke="#2878e6" stroke-width="2.2" fill="none" stroke-dasharray="3.8 5.9"/>
<text x="623.1" y="66.1" font-size="11.4" fill="#000">SL-CBC</text>
<path d="M594.7 76H619.7" stroke="#35a55f" stroke-width="2.2" fill="none" stroke-dasharray="11.4 7 1.9 6.9"/>
<text x="623.1" y="79.9" font-size="11.4" fill="#000">SL-MBC</text>
<path d="M594.7 90.2H619.7" stroke="#b069e0" stroke-width="2.2" fill="none" stroke-dasharray="8 7.5 1.4 7.5 1.4 7.5"/>
<text x="623.1" y="94.1" font-size="11.4" fill="#000">SL-FBC</text>
<text x="408.4" y="46.6" font-size="24.6" font-weight="bold">(b)</text>
<text x="534.9" y="285.9" font-size="18.2" font-weight="bold" text-anchor="middle" textLength="95.5" lengthAdjust="spacingAndGlyphs">Time (min)</text>
<text transform="translate(366.3 267.2) rotate(-90)" font-size="19.2" font-weight="bold" textLength="268.2" lengthAdjust="spacingAndGlyphs">CO<tspan font-size="12.5" dy="4.8">2</tspan><tspan dy="-4.8"> sorption capacity (mg g</tspan><tspan font-size="12.5" dy="-8.5">-1</tspan><tspan dy="8.5">)</tspan></text>
</g>
<g id="panel-c">
<path d="M112 513.2V544.2M109.6 513.2h4.8M109.6 544.2h4.8" stroke="#444" stroke-width="0.7" fill="none"/>
<rect x="105.3" y="522.2" width="13.4" height="13.4" fill="#000"/>
<path d="M134.2 492.2V513.3M131.8 492.2h4.8M131.8 513.3h4.8" stroke="#ff0000" stroke-width="0.7" fill="none"/>
<clipPath id="hc1"><rect x="124.6" y="492.6" width="19.6" height="9.8"/></clipPath>
<polygon points="134.4,494.6 136.23,499.88 141.82,499.99 137.37,503.36 138.98,508.71 134.4,505.52 129.82,508.71 131.43,503.36 126.98,499.99 132.57,499.88" fill="#fff" stroke="#ff0000" stroke-width="1.3" stroke-linejoin="miter"/>
<polygon points="134.4,494.6 136.23,499.88 141.82,499.99 137.37,503.36 138.98,508.71 134.4,505.52 129.82,508.71 131.43,503.36 126.98,499.99 132.57,499.88" fill="#ff0000" stroke="#ff0000" stroke-width="1.3" clip-path="url(#hc1)"/>
<path d="M287.8 431.4V461.1M285.4 431.4h4.8M285.4 461.1h4.8" stroke="#0000ff" stroke-width="0.7" fill="none"/>
<rect x="281.6" y="440.3" width="12.4" height="12.4" fill="#fff" stroke="#0000ff" stroke-width="1.2"/>
<rect x="287.8" y="440.3" width="6.2" height="12.4" fill="#0000ff" stroke="#0000ff" stroke-width="1.2"/>
<path d="M140.2 471.2V488.3M138 471.2h4.4M138 488.3h4.4" stroke="#7fc97f" stroke-width="0.55" fill="none"/>
<circle cx="140.2" cy="480" r="7.2" fill="#fff" stroke="#7fc97f" stroke-width="1.0"/>
<path d="M133 480a7.2 7.2 0 0 1 14.4 0z" fill="#7fc97f" stroke="#7fc97f" stroke-width="1.0"/>
<path d="M136.2 491.4V513M133.8 491.4h4.8M133.8 513h4.8" stroke="#ff00ff" stroke-width="0.7" fill="none"/>
<path d="M127.9 497.5H144.3L136.1 510.9z" fill="#fff" stroke="#ff00ff" stroke-width="1.1" stroke-linejoin="miter"/>
<path d="M127.9 497.5H144.3L140.86 503.13H131.34z" fill="#ff00ff" stroke="#ff00ff" stroke-width="1.1"/>
<path d="M47.25 581L331 352" stroke="#000" stroke-width="1.4" fill="none" stroke-dasharray="8.2 2.4 1.7 2.4" stroke-dashoffset="1.5"/>
<rect x="47.25" y="352" width="283.75" height="229" fill="none" stroke="#000" stroke-width="1.7"/>
<path d="M47.25 581v4.4M118.19 581v4.4M189.12 581v4.4M260.06 581v4.4M331 581v4.4M82.72 581v2.3M153.66 581v2.3M224.59 581v2.3M295.53 581v2.3M47.25 581h-4.4M47.25 523.75h-4.4M47.25 466.5h-4.4M47.25 409.25h-4.4M47.25 352h-4.4M47.25 552.38h-2.3M47.25 495.12h-2.3M47.25 437.88h-2.3M47.25 380.62h-2.3" stroke="#000" stroke-width="1.7" fill="none"/>
<g font-size="15.4" fill="#000">
<text transform="translate(47.25 600.7) scale(1.0 1)" text-anchor="middle">5</text>
<text transform="translate(118.19 600.7) scale(1.0 1)" text-anchor="middle">10</text>
<text transform="translate(189.12 600.7) scale(1.0 1)" text-anchor="middle">15</text>
<text transform="translate(260.06 600.7) scale(1.0 1)" text-anchor="middle">20</text>
<text transform="translate(331 600.7) scale(1.0 1)" text-anchor="middle">25</text>
<text transform="translate(39.6 586) scale(1.0 1)" text-anchor="end">5</text>
<text transform="translate(39.6 528.75) scale(1.0 1)" text-anchor="end">10</text>
<text transform="translate(39.6 471.5) scale(1.0 1)" text-anchor="end">15</text>
<text transform="translate(39.6 414.25) scale(1.0 1)" text-anchor="end">20</text>
<text transform="translate(39.6 357) scale(1.0 1)" text-anchor="end">25</text>
</g>
<text transform="translate(133.2 458.8) scale(0.965 1)" font-size="15.4" font-weight="bold" fill="#7fc97f">CL-MBC</text>
<text transform="translate(157.8 503.6) scale(0.965 1)" font-size="15.4" font-weight="bold" fill="#ff00ff">CL-FBC</text>
<text transform="translate(132.8 530.2) scale(0.965 1)" font-size="15.4" font-weight="bold" fill="#ff0000">CL-BC</text>
<text transform="translate(113.8 557.5) scale(0.965 1)" font-size="15.4" font-weight="bold" fill="#000">CL</text>
<text transform="translate(266.1 480.6) scale(0.965 1)" font-size="15.4" font-weight="bold" fill="#0000ff">CL-CBC</text>
<rect x="277.2" y="365" width="48.5" height="20" fill="#fff"/>
<text transform="translate(278 380.2) scale(1.02 1)" font-size="14.7" fill="#000">1:1 line</text>
<text x="54.6" y="380.5" font-size="25.7" font-weight="bold">(c)</text>
<text x="42.8" y="618.4" font-size="15" font-weight="bold" textLength="292.5" lengthAdjust="spacingAndGlyphs">Calculated value of CO<tspan font-size="9.8" dy="3.6">2</tspan><tspan dy="-3.6"> sorption (mg g</tspan><tspan font-size="10.5" dy="-6.8">-1</tspan><tspan dy="6.8">)</tspan></text>
<text transform="translate(14.1 627.3) rotate(-90)" font-size="15" font-weight="bold" textLength="313.5" lengthAdjust="spacingAndGlyphs">Experimental value of CO<tspan font-size="9.8" dy="3.6">2</tspan><tspan dy="-3.6"> sorption (mg g</tspan><tspan font-size="10.5" dy="-6.8">-1</tspan><tspan dy="6.8">)</tspan></text>
</g>
<g id="panel-d">
<path d="M463.6 517V536.4M461.2 517h4.8M461.2 536.4h4.8" stroke="#444" stroke-width="0.7" fill="none"/>
<rect x="456.9" y="520" width="13.4" height="13.4" fill="#000"/>
<path d="M641.7 426.3V447.3M639.3 426.3h4.8M639.3 447.3h4.8" stroke="#0000ff" stroke-width="0.7" fill="none"/>
<rect x="635.7" y="430.8" width="12" height="12" fill="#fff" stroke="#0000ff" stroke-width="1.2"/>
<rect x="641.7" y="430.8" width="6" height="12" fill="#0000ff" stroke="#0000ff" stroke-width="1.2"/>
<circle cx="494.7" cy="502.2" r="7.2" fill="#fff" stroke="#7fc97f" stroke-width="1.0"/>
<path d="M487.5 502.2a7.2 7.2 0 0 1 14.4 0z" fill="#7fc97f" stroke="#7fc97f" stroke-width="1.0"/>
<path d="M489.1 509V523.3M486.7 509h4.8M486.7 523.3h4.8" stroke="#ff0000" stroke-width="0.7" fill="none"/>
<clipPath id="hc2"><rect x="479.5" y="505.8" width="19.2" height="9.6"/></clipPath>
<polygon points="489.1,507.8 490.89,512.94 496.33,513.05 491.99,516.34 493.57,521.55 489.1,518.44 484.63,521.55 486.21,516.34 481.87,513.05 487.31,512.94" fill="#fff" stroke="#ff0000" stroke-width="1.3" stroke-linejoin="miter"/>
<polygon points="489.1,507.8 490.89,512.94 496.33,513.05 491.99,516.34 493.57,521.55 489.1,518.44 484.63,521.55 486.21,516.34 481.87,513.05 487.31,512.94" fill="#ff0000" stroke="#ff0000" stroke-width="1.3" clip-path="url(#hc2)"/>
<path d="M491 501V515M488.6 501h4.8M488.6 515h4.8" stroke="#ff00ff" stroke-width="0.7" fill="none"/>
<path d="M482.3 500.4H499.5L490.9 513.9z" fill="#fff" stroke="#ff00ff" stroke-width="1.1" stroke-linejoin="miter"/>
<path d="M482.3 500.4H499.5L495.89 506.07H485.91z" fill="#ff00ff" stroke="#ff00ff" stroke-width="1.1"/>
<path d="M395.4 581.4L677.3 353.7" stroke="#000" stroke-width="1.4" fill="none" stroke-dasharray="8.2 2.4 1.7 2.4" stroke-dashoffset="1.5"/>
<rect x="395.4" y="353.7" width="281.9" height="227.7" fill="none" stroke="#000" stroke-width="1.7"/>
<path d="M395.4 581.4v4.4M465.88 581.4v4.4M536.35 581.4v4.4M606.82 581.4v4.4M677.3 581.4v4.4M430.64 581.4v2.3M501.11 581.4v2.3M571.59 581.4v2.3M642.06 581.4v2.3M395.4 581.4h-4.4M395.4 524.48h-4.4M395.4 467.55h-4.4M395.4 410.62h-4.4M395.4 353.7h-4.4M395.4 552.94h-2.3M395.4 496.01h-2.3M395.4 439.09h-2.3M395.4 382.16h-2.3" stroke="#000" stroke-width="1.7" fill="none"/>
<g font-size="15.4" fill="#000">
<text transform="translate(395.4 600.7) scale(1.0 1)" text-anchor="middle">0</text>
<text transform="translate(465.88 600.7) scale(1.0 1)" text-anchor="middle">5</text>
<text transform="translate(536.35 600.7) scale(1.0 1)" text-anchor="middle">10</text>
<text transform="translate(606.82 600.7) scale(1.0 1)" text-anchor="middle">15</text>
<text transform="translate(677.3 600.7) scale(1.0 1)" text-anchor="middle">20</text>
<text transform="translate(387.8 586.4) scale(1.0 1)" text-anchor="end">0</text>
<text transform="translate(387.8 529.48) scale(1.0 1)" text-anchor="end">5</text>
<text transform="translate(387.8 472.55) scale(1.0 1)" text-anchor="end">10</text>
<text transform="translate(387.8 415.62) scale(1.0 1)" text-anchor="end">15</text>
<text transform="translate(387.8 358.7) scale(1.0 1)" text-anchor="end">20</text>
</g>
<text transform="translate(519.6 497) scale(0.965 1)" font-size="15.4" font-weight="bold" fill="#7fc97f">SL-MBC</text>
<text transform="translate(500.6 516.2) scale(0.965 1)" font-size="15.4" font-weight="bold" fill="#ff00ff">SL-FBC</text>
<text transform="translate(490.4 534.2) scale(0.965 1)" font-size="15.4" font-weight="bold" fill="#ff0000">SL-BC</text>
<text transform="translate(461.8 558.2) scale(0.965 1)" font-size="15.4" font-weight="bold" fill="#000">SL</text>
<text transform="translate(612.7 465) scale(0.965 1)" font-size="15.4" font-weight="bold" fill="#0000ff">SL-CBC</text>
<rect x="624.5" y="366.1" width="48.5" height="20" fill="#fff"/>
<text transform="translate(625.3 381.3) scale(1.02 1)" font-size="14.7" fill="#000">1:1 line</text>
<text x="402.5" y="382" font-size="25.7" font-weight="bold">(d)</text>
<text x="391.5" y="618.4" font-size="15" font-weight="bold" textLength="290.6" lengthAdjust="spacingAndGlyphs">Calculated value of CO<tspan font-size="9.8" dy="3.6">2</tspan><tspan dy="-3.6"> sorption (mg g</tspan><tspan font-size="10.5" dy="-6.8">-1</tspan><tspan dy="6.8">)</tspan></text>
<text transform="translate(363.2 627.5) rotate(-90)" font-size="15" font-weight="bold" textLength="310" lengthAdjust="spacingAndGlyphs">Experimental value of CO<tspan font-size="9.8" dy="3.6">2</tspan><tspan dy="-3.6"> sorption (mg g</tspan><tspan font-size="10.5" dy="-6.8">-1</tspan><tspan dy="6.8">)</tspan></text>
</g>
</svg></body></html>
